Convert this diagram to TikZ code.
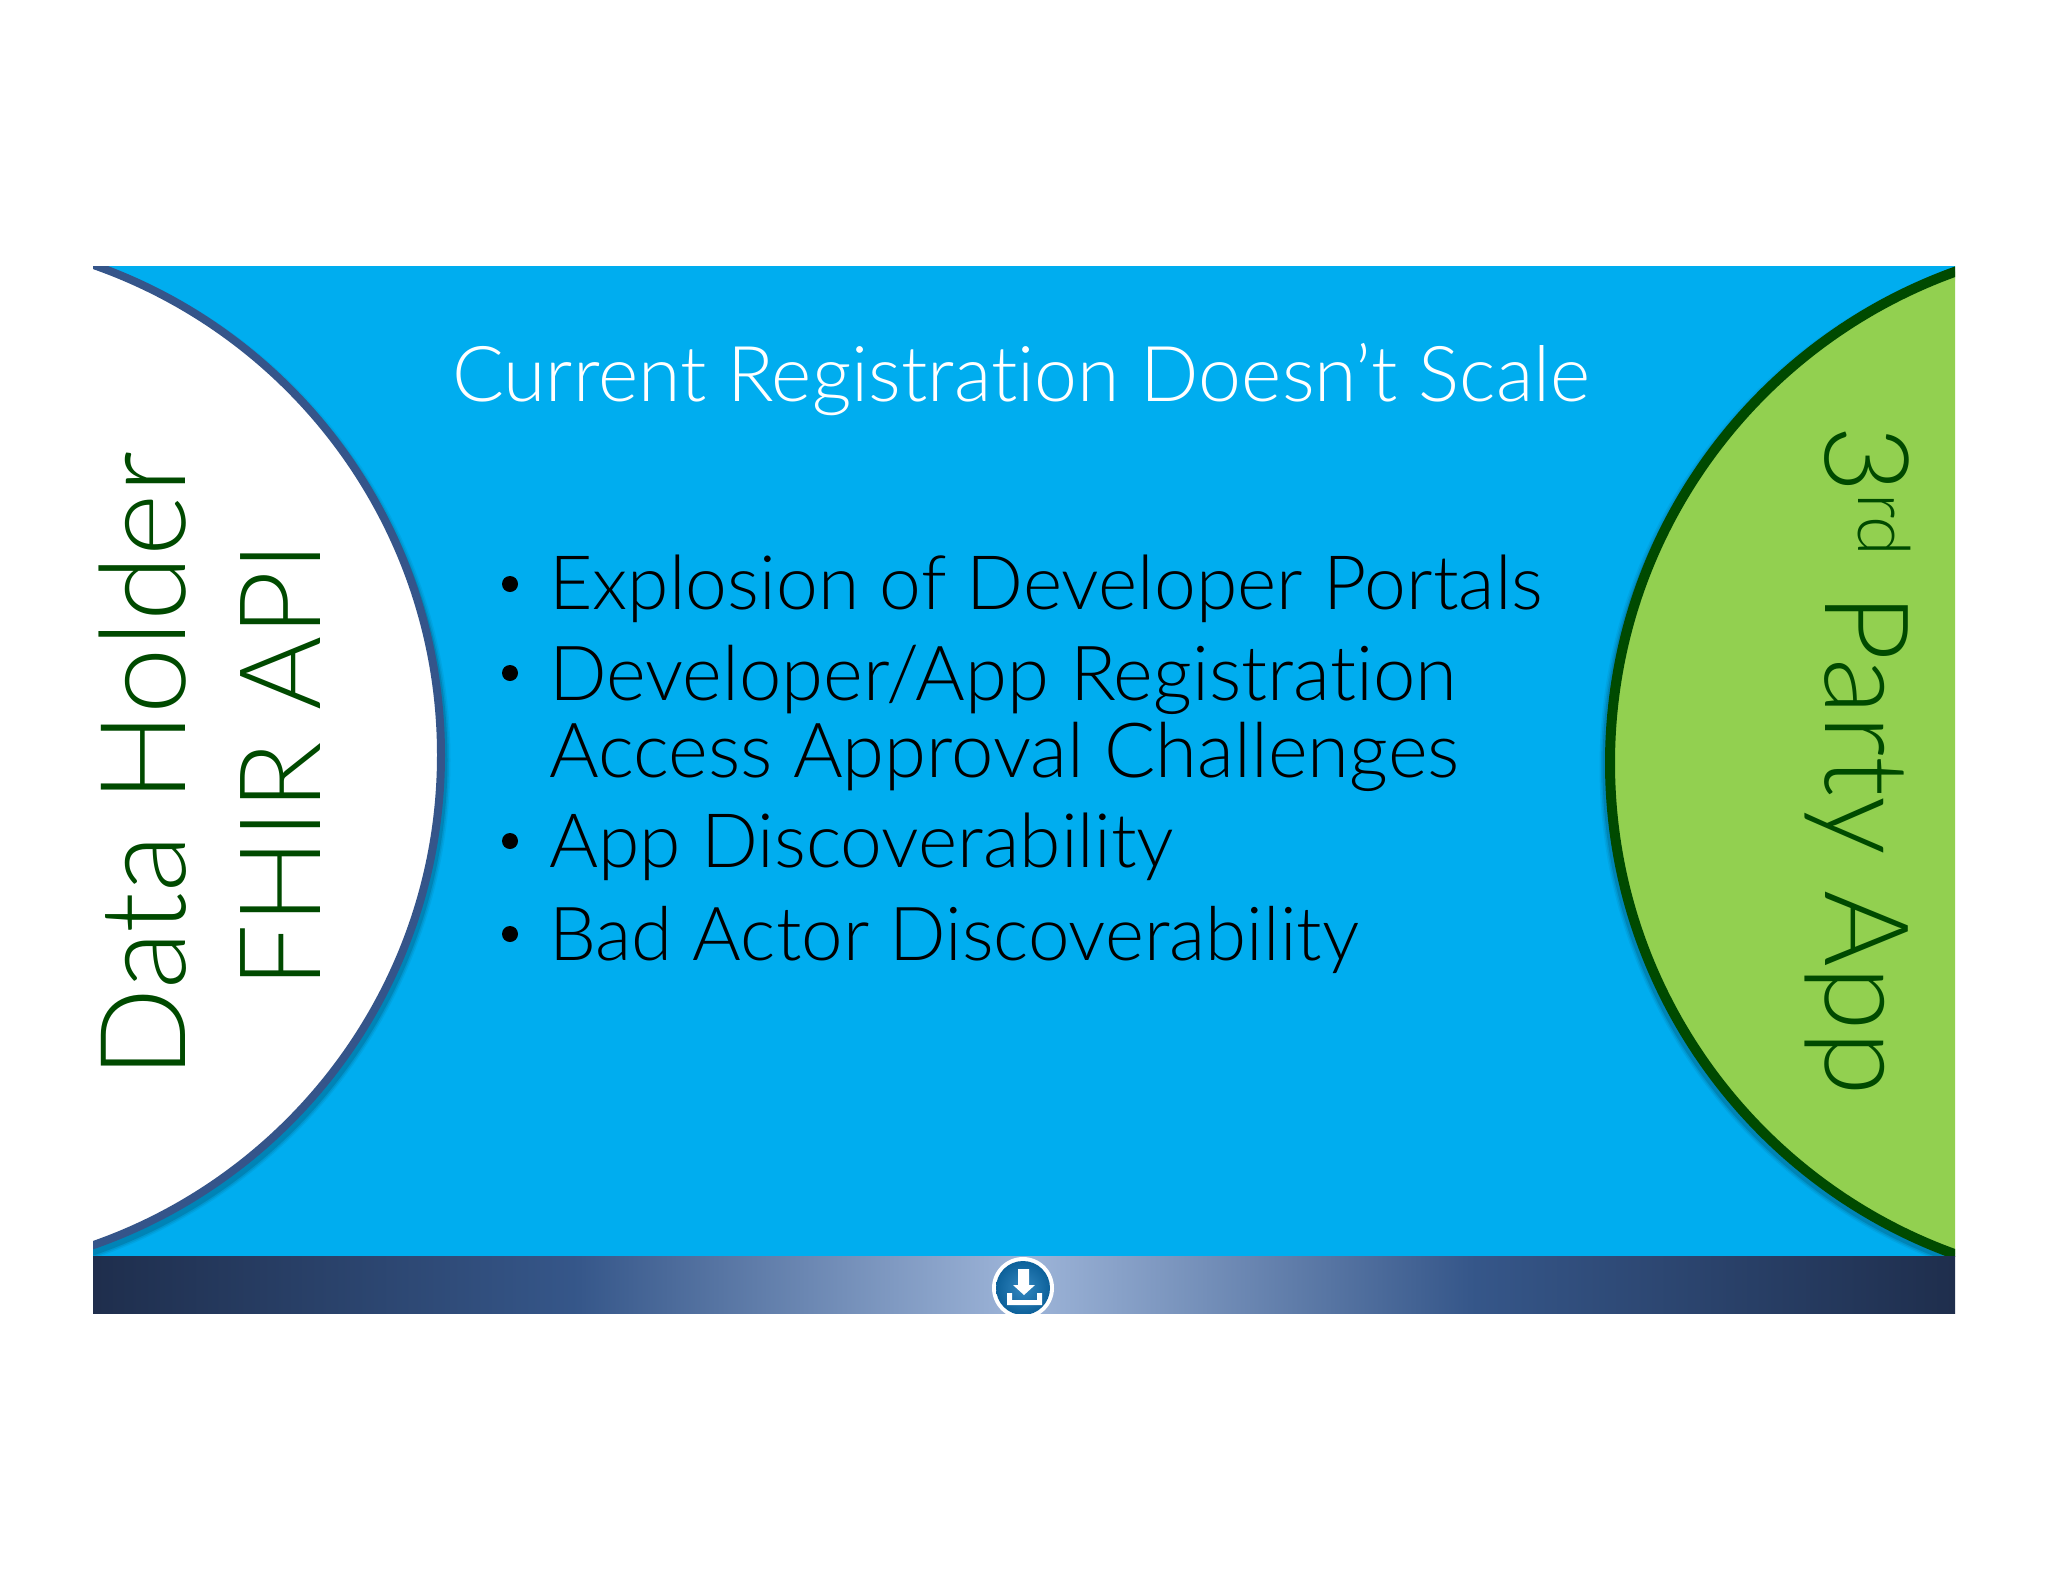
\documentclass[tikz,border=0pt]{standalone}
\usepackage{fontspec}
\setmainfont{Lato Light}[BoldFont=Lato,Ligatures=NoCommon]
\usetikzlibrary{calc}
\definecolor{skyb}{HTML}{00ADEF}
\definecolor{leftring}{HTML}{35558A}
\definecolor{darkg}{HTML}{004A00}
\definecolor{appg}{HTML}{92D050}
\definecolor{iconb}{HTML}{0F72B5}
\pgfdeclarehorizontalshading{footshade}{100bp}{
 rgb(0bp)=(0.12,0.18,0.30);
 rgb(25bp)=(0.12,0.18,0.30);
 rgb(38bp)=(0.21,0.34,0.54);
 rgb(50bp)=(0.62,0.71,0.85);
 rgb(62bp)=(0.21,0.34,0.54);
 rgb(75bp)=(0.12,0.18,0.30);
 rgb(100bp)=(0.12,0.18,0.30)}
\tikzset{
 x=1pt,y=-1pt,
 bodytext/.style={anchor=base west,inner sep=0pt,text=black},
 titletext/.style={anchor=base west,inner sep=0pt,text=white,font=\fontsize{77}{92}\selectfont},
 sidetext/.style={anchor=base west,inner sep=0pt,text=darkg},
 dot/.style={circle,fill=black,inner sep=0pt,minimum size=16pt}
}
\begin{document}
\begin{tikzpicture}
\useasboundingbox (0,0) rectangle (2048,1582);
\fill[white] (0,0) rectangle (2048,1582);
\fill[skyb] (93,266) rectangle (1955,1256);
\begin{scope}
\clip (93,266) rectangle (1955,1256);
\foreach \w/\o in {15/0.05,12/0.08,9/0.12}{
 \draw[black,opacity=\o,line width=\w pt] (-76,760) circle[radius=519];
 \draw[black,opacity=\o,line width=\w pt] (2129,767) circle[radius=522];}
\fill[white,draw=leftring,line width=8pt] (-78,755) circle[radius=519];
\fill[appg,draw=darkg,line width=10pt] (2132,763) circle[radius=522];
\end{scope}
\node[name=bar,shape=rectangle,inner sep=0pt,minimum width=1862pt,minimum height=57pt,anchor=north west,shading=footshade,shading angle=0] at (93,1256) {};
\begin{scope}
\clip (93,1256) rectangle (1955,1313);
\node[name=iconring,circle,fill=white,inner sep=0pt,minimum size=62pt] at (1023,1288) {};
\node[name=icondisc,circle,inner color=iconb!85!white,outer color=iconb!85!black,inner sep=0pt,minimum size=54pt] at (1023,1288) {};
\end{scope}
\fill[white] (1018,1269) -- (1029,1269) -- (1029,1285) -- (1035,1285) -- (1024,1295) -- (1013,1285) -- (1018,1285) -- cycle;
\fill[white] (1007,1293) -- (1012,1293) -- (1012,1300) -- (1037,1300) -- (1037,1293) -- (1042,1293) -- (1042,1305) -- (1007,1305) -- cycle;
\node[titletext,name=title] at (452,401) {Current Registration Doesn’t Scale};
\node[dot,name=b1] at (510,584) {};
\node[dot,name=b2] at (510,673) {};
\node[dot,name=b3] at (510,841) {};
\node[dot,name=b4] at (510,934) {};
\node[bodytext,name=t1,font=\fontsize{75}{90}\selectfont] at (549,609) {Explosion of Developer Portals};
\node[bodytext,name=t2,font=\fontsize{76}{90}\selectfont] at (549,700) {Developer/App Registration};
\node[bodytext,name=t3,font=\fontsize{76}{90}\selectfont] at (549,777) {Access Approval Challenges};
\node[bodytext,name=t4,font=\fontsize{75}{90}\selectfont] at (549,867) {App Discoverability};
\node[bodytext,name=t5,font=\fontsize{74.5}{90}\selectfont] at (549,960) {Bad Actor Discoverability};
\node[sidetext,rotate=90,name=dh,font=\fontsize{119}{140}\selectfont] at (185,1079) {Data Holder};
\node[sidetext,rotate=90,name=fa,font=\fontsize{113}{135}\selectfont] at (320,989) {FHIR API};
\node[sidetext,rotate=-90,name=tp,font=\fontsize{117}{138}\selectfont] at (1825,425) {3\raisebox{33pt}{\fontsize{72}{80}\selectfont rd}\hspace{5pt} Party\hspace{3pt} App};
\end{tikzpicture}
\end{document}
